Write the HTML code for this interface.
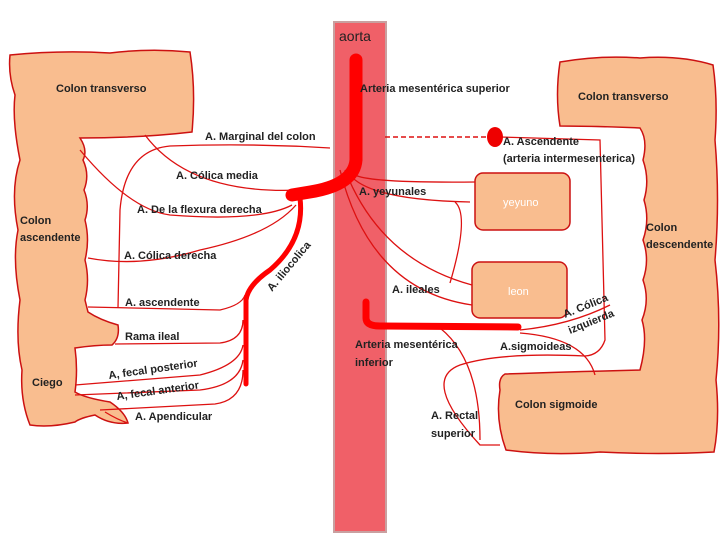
<!DOCTYPE html>
<html><head><meta charset="utf-8"><style>
body{margin:0;background:#fff}
svg{display:block}
text{font-family:"Liberation Sans",sans-serif;font-weight:bold;font-size:11px;fill:#222}
</style></head><body>
<svg width="728" height="546" viewBox="0 0 728 546">
<rect x="334" y="22" width="52" height="510" fill="#f06068" stroke="#c9a0a0" stroke-width="2"/>
<text x="339" y="41" style="font-weight:normal;font-size:14px;fill:#222">aorta</text>

<!-- left colon -->
<path d="M10,55 Q60,50 110,53 Q150,48 190,52 Q196,90 192,132 Q140,138 80,138 Q88,150 83,160 Q90,175 84,190 Q90,205 85,220 Q90,240 85,260 Q90,280 85,300 L88,312 Q100,320 118,325 Q120,338 112,345 Q95,345 75,348 Q78,370 75,392 Q85,398 110,402 Q125,412 128,423 Q110,425 95,415 Q80,418 75,422 Q50,428 30,425 Q20,400 22,370 Q15,340 20,300 Q12,260 18,230 Q10,190 20,160 Q12,120 15,95 Q8,75 10,55 Z" fill="#f9bd8f" stroke="#cc1111" stroke-width="1.5"/>
<!-- right colon -->
<path d="M560,62 Q600,55 640,58 Q680,55 713,65 Q718,100 715,140 Q720,200 715,260 Q722,320 716,380 Q720,420 714,452 Q660,455 600,452 Q550,456 506,450 Q495,420 500,390 Q498,378 505,374 Q560,372 640,370 Q648,340 642,320 Q650,300 643,280 Q650,260 643,240 Q650,220 644,200 Q650,180 643,160 Q648,140 640,128 Q600,126 560,126 Q555,95 560,62 Z" fill="#f9bd8f" stroke="#cc1111" stroke-width="1.5"/>
<rect x="475" y="173" width="95" height="57" rx="8" fill="#f9bd8f" stroke="#cc1111" stroke-width="1.5"/>
<rect x="472" y="262" width="95" height="56" rx="8" fill="#f9bd8f" stroke="#cc1111" stroke-width="1.5"/>
<text x="503" y="206" style="font-weight:normal;fill:#fff">yeyuno</text>
<text x="508" y="295" style="font-weight:normal;fill:#fff">leon</text>

<g fill="none" stroke="#dd1111" stroke-width="1.3">
<!-- left branches -->
<path d="M330,148 Q250,143 170,146 Q125,150 120,210 L118,308"/>
<path d="M145,135 Q190,195 300,190"/>
<path d="M80,150 Q130,210 170,215 Q260,222 292,205"/>
<path d="M88,258 Q140,268 200,250 Q270,235 296,205"/>
<path d="M88,307 L220,310 Q242,305 245,295"/>
<path d="M115,344 L220,343 Q243,340 243,320"/>
<path d="M75,385 L200,375 Q240,365 243,345"/>
<path d="M75,395 L200,390 Q240,385 243,360"/>
<path d="M100,410 L215,404 Q243,400 243,370"/>
<path d="M105,412 Q118,420 128,423"/>
<!-- right branches -->
<path d="M355,175 Q370,183 475,182"/>
<path d="M350,175 Q370,200 470,202"/>
<path d="M455,202 Q470,215 450,283"/>
<path d="M345,170 Q380,260 472,285"/>
<path d="M340,170 Q370,290 472,305"/>
<path d="M500,137 L600,140 L605,340 Q600,355 585,356 Q500,352 460,365 Q420,380 480,445 L500,445"/>
<path d="M520,330 Q570,325 610,305"/>
<path d="M520,333 Q585,338 595,375"/>
<path d="M440,328 Q480,360 480,440"/>
</g>
<path d="M385,137 L490,137" stroke="#dd1111" stroke-width="1.5" stroke-dasharray="5,3"/>
<ellipse cx="495" cy="137" rx="8" ry="10" fill="#ee0000"/>

<!-- thick arteries -->
<g fill="none" stroke="#ff0000" stroke-linecap="round">
<path d="M356,60 L356,160 Q354,185 310,192 L292,195" stroke-width="13"/>
<path d="M300,198 Q305,240 270,270 Q248,285 246,300 L246,384" stroke-width="5"/>
<path d="M366,302 L366,318 Q366,326 380,326 L518,327" stroke-width="7"/>
</g>

<text x="56" y="92">Colon transverso</text>
<text x="205" y="140">A. Marginal del colon</text>
<text x="176" y="179">A. Cólica media</text>
<text x="137" y="213">A. De la flexura derecha</text>
<text x="20" y="224">Colon</text>
<text x="20" y="241">ascendente</text>
<text x="124" y="259">A. Cólica derecha</text>
<text x="125" y="306">A. ascendente</text>
<text x="125" y="340">Rama ileal</text>
<text x="109" y="379" transform="rotate(-8 109 379)">A, fecal posterior</text>
<text x="117" y="400" transform="rotate(-8 117 400)">A, fecal anterior</text>
<text x="32" y="386">Ciego</text>
<text x="135" y="420">A. Apendicular</text>
<text x="272" y="292" transform="rotate(-50 272 292)">A. iliocolica</text>

<text x="360" y="92">Arteria mesentérica superior</text>
<text x="578" y="100">Colon transverso</text>
<text x="503" y="145">A.     Ascendente</text>
<text x="503" y="162">(arteria intermesenterica)</text>
<text x="359" y="195">A. yeyunales</text>
<text x="646" y="231">Colon</text>
<text x="646" y="248">descendente</text>
<text x="392" y="293">A. ileales</text>
<text x="565" y="318" transform="rotate(-22 565 318)">A. Cólica</text>
<text x="570" y="334" transform="rotate(-22 570 334)">izquierda</text>
<text x="355" y="348">Arteria mesentérica</text>
<text x="355" y="366">inferior</text>
<text x="500" y="350">A.sigmoideas</text>
<text x="515" y="408">Colon sigmoide</text>
<text x="431" y="419">A. Rectal</text>
<text x="431" y="437">superior</text>
</svg>
</body></html>
